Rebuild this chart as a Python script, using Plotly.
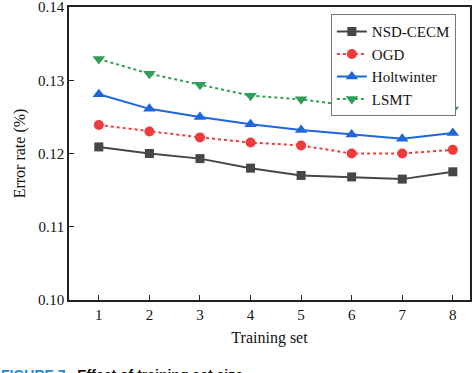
import plotly.graph_objects as go

x_vals = [1, 2, 3, 4, 5, 6, 7, 8]
nsd_cecm = [0.1209, 0.1200, 0.1193, 0.1180, 0.1170, 0.1168, 0.1165, 0.1175]
ogd = [0.1239, 0.1230, 0.1222, 0.1215, 0.1211, 0.1200, 0.1200, 0.1205]
holtwinter = [0.1281, 0.1261, 0.1250, 0.1240, 0.1232, 0.1226, 0.1220, 0.1228]
lsmt = [0.1329, 0.1309, 0.1294, 0.1279, 0.1274, 0.1265, 0.1258, 0.1260]
y_ticks = [0.10, 0.11, 0.12, 0.13, 0.14]
y_tick_labels = ["0.10", "0.11", "0.12", "0.13", "0.14"]

serif = "Liberation Serif"

fig = go.Figure()
fig.add_trace(go.Scatter(x=x_vals, y=nsd_cecm, name="NSD-CECM", mode="lines+markers",
                         line=dict(color="#464646", width=2, dash="solid"),
                         marker=dict(symbol="square", size=9, color="#464646")))
fig.add_trace(go.Scatter(x=x_vals, y=ogd, name="OGD", mode="lines+markers",
                         line=dict(color="#ee3b3b", width=2, dash="dot"),
                         marker=dict(symbol="circle", size=10, color="#ee3b3b")))
fig.add_trace(go.Scatter(x=x_vals, y=holtwinter, name="Holtwinter", mode="lines+markers",
                         line=dict(color="#1f66dd", width=2, dash="solid"),
                         marker=dict(symbol="triangle-up", size=11, color="#1f66dd")))
fig.add_trace(go.Scatter(x=x_vals, y=lsmt, name="LSMT", mode="lines+markers",
                         line=dict(color="#2e9e58", width=2, dash="dot"),
                         marker=dict(symbol="triangle-down", size=11, color="#2e9e58")))

fig.update_layout(
    width=474, height=373,
    margin=dict(l=69, r=4, t=7, b=73),
    paper_bgcolor="white", plot_bgcolor="white",
    font=dict(family=serif, size=15, color="#111111"),
    showlegend=True,
    legend=dict(x=0.653, y=0.975, xanchor="left", yanchor="top",
                bordercolor="#777777", borderwidth=1, bgcolor="white",
                font=dict(family=serif, size=15, color="#111111"),
                tracegroupgap=0),
    xaxis=dict(range=[0.41, 8.34], tickmode="array", tickvals=x_vals,
               automargin=False,
               ticks="inside", ticklen=5, tickwidth=1.2, tickcolor="#222222",
               showline=True, mirror=True, linecolor="#222222", linewidth=1.5,
               showgrid=False, zeroline=False,
               tickfont=dict(family=serif, size=15),
               title=dict(text="Training set", standoff=10,
                          font=dict(family=serif, size=16))),
    yaxis=dict(range=[0.09999, 0.14001], tickmode="array", tickvals=y_ticks,
               ticktext=y_tick_labels, ticklabeloverflow="allow",
               automargin=False,
               ticks="inside", ticklen=5, tickwidth=1.2, tickcolor="#222222",
               showline=True, mirror=True, linecolor="#222222", linewidth=1.5,
               showgrid=False, zeroline=False,
               tickfont=dict(family=serif, size=15),
               title=dict(text="Error rate (%)", standoff=8,
                          font=dict(family=serif, size=16))),
)

fig.add_annotation(
    text="<b><span style='color:#1f8ad6'>FIGURE 7</span>&nbsp;&nbsp; Effect of training set size</b>",
    xref="paper", yref="paper", x=-0.174, y=-0.222, xanchor="left", yanchor="top",
    showarrow=False, font=dict(family="Liberation Sans", size=14, color="#111111"),
)

fig.write_html("out.html", config={"displayModeBar": False},
               post_script="document.body.style.margin='0';document.body.style.overflow='hidden';")
